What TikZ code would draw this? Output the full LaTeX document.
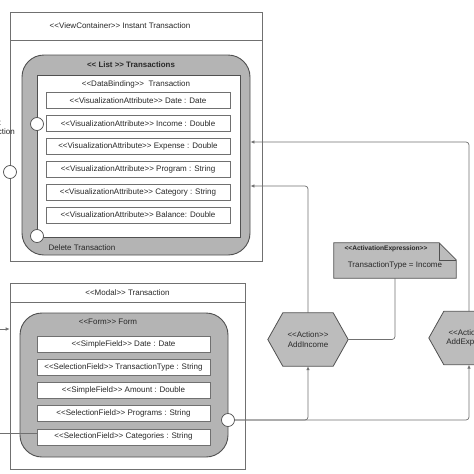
\documentclass[tikz,border=0pt]{standalone}
\usepackage{fontspec}
\setmainfont{Liberation Sans}
\usetikzlibrary{arrows.meta,positioning,backgrounds}
\definecolor{umlgray}{RGB}{180,180,180}
\definecolor{actgray}{RGB}{188,188,188}
\definecolor{linegray}{RGB}{112,112,112}
\definecolor{edgegray}{RGB}{80,80,80}
\definecolor{textgray}{RGB}{40,40,40}
\newcommand\stl{<\kern0pt<}
\newcommand\str{>\kern0pt>}

\begin{document}
\begin{tikzpicture}[
    x=1pt, y=-1pt,
    font=\fontsize{8}{9.5}\selectfont, text=textgray,
    frame/.style={
      rectangle, draw=linegray, line width=0.6pt, fill=white, inner sep=0pt
    },
    panel/.style={
      rectangle, rounded corners=22pt, draw=edgegray, line width=0.9pt,
      fill=umlgray, inner sep=0pt
    },
    attr/.style={
      rectangle, draw=linegray, line width=0.6pt, fill=white,
      minimum width=184pt, minimum height=16pt, inner sep=0pt
    },
    field/.style={attr, minimum width=173pt},
    port/.style={
      circle, draw=edgegray, line width=0.7pt, fill=white,
      minimum size=13pt, inner sep=0pt
    },
    action/.style={
      rectangle, minimum width=80pt, minimum height=53pt,
      align=center, inner sep=0pt
    },
    hexa/.style={draw=edgegray, line width=0.8pt, fill=actgray},
    wire/.style={draw=linegray, line width=0.7pt, rounded corners=3pt},
    arrow/.style={wire, -{Latex[length=4pt,width=3.5pt]}}
  ]
    \useasboundingbox (0,0) rectangle (474,474);

    % view container
    \node[frame, minimum width=252pt, minimum height=249pt] (view) at (136,136.5) {};
    \node[frame, minimum width=252pt, minimum height=28pt, anchor=north] (viewhead) at (view.north) {};
    \node (viewtitle) at (120,26) {\stl ViewContainer\str{} Instant Transaction};
    \node[panel, minimum width=228pt, minimum height=200pt] (lst) at (136,155) {};
    \node[font=\fontsize{7.9}{9}\selectfont\bfseries] (lsttitle) at (131,65) {\stl{} List \str{} Transactions};
    \node[rectangle, draw=edgegray, line width=0.7pt, fill=white,
      minimum width=203pt, minimum height=162pt] (bind) at (138.5,156) {};
    \node (bindtitle) at (136,84) {\stl DataBinding\str{} \ Transaction};
    \node[attr] (a1) at (138,100.5) {\stl VisualizationAttribute\str{} Date : Date};
    \node[attr, below=6.3pt of a1] (a2) {\stl VisualizationAttribute\str{} Income : Double};
    \node[attr, below=6.3pt of a2] (a3) {\stl VisualizationAttribute\str{} Expense : Double};
    \node[attr, below=6.3pt of a3] (a4) {\stl VisualizationAttribute\str{} Program : String};
    \node[attr, below=6.3pt of a4] (a5) {\stl VisualizationAttribute\str{} Category : String};
    \node[attr, below=6.3pt of a5] (a6) {\stl VisualizationAttribute\str{} Balance: Double};
    \node[port] (p1) at (37,124) {};
    \node[port] (p2) at (10,172) {};
    \node[port] (p3) at (37,236) {};
    \node[anchor=west] (deltxt) at (45,248) {Delete Transaction};
    \node[align=center] (edittxt) at (-6,127) {Edit\\Transaction};

    % modal
    \node[frame, minimum width=235pt, minimum height=186pt] (mdl) at (127.5,376) {};
    \node[frame, minimum width=235pt, minimum height=19pt, anchor=north] (mdlhead) at (mdl.north) {};
    \node (mdltitle) at (mdlhead) {\stl Modal\str{} Transaction};
    \node[panel, minimum width=208pt, minimum height=144pt] (form) at (124,385) {};
    \node (formtitle) at (108,322) {\stl Form\str{} Form};
    \node[field] (f1) at (123.5,344) {\stl SimpleField\str{} Date : Date};
    \node[field, below=6.6pt of f1] (f2) {\stl SelectionField\str{} TransactionType : String};
    \node[field, below=6.6pt of f2] (f3) {\stl SimpleField\str{} Amount : Double};
    \node[field, below=6.6pt of f3] (f4) {\stl SelectionField\str{} Programs : String};
    \node[field, below=6.6pt of f4] (f5) {\stl SelectionField\str{} Categories : String};
    \node[port] (p4) at (228,420) {};

    % actions and condition
    \node[action] (inc) at (308,339.5) {\stl Action\str\\AddIncome};
    \node[action] (exp) at (469,338) {\stl Action\str\\AddExpense};
    \node[rectangle, minimum width=122pt, minimum height=35pt] (cond) at (395,260.5) {};
    \node (condhead) at (386,249) {\fontsize{6.6}{7}\selectfont\bfseries \stl ActivationExpression\str};
    \node (condtxt) at (395,265) {TransactionType = Income};
    \begin{scope}[on background layer]
      \foreach \a in {inc,exp}
        \draw[hexa] (\a.west) -- ([xshift=15pt]\a.north west) -- ([xshift=-15pt]\a.north east)
          -- (\a.east) -- ([xshift=-15pt]\a.south east) -- ([xshift=15pt]\a.south west) -- cycle;
      \draw[hexa, line width=0.7pt] (cond.north west) -- ([xshift=-17pt]cond.north east)
        -- ([yshift=-17pt]cond.north east) -- (cond.south east) -- (cond.south west) -- cycle;
      \draw[draw=edgegray, line width=0.6pt] ([xshift=-17pt]cond.north east)
        |- ([yshift=-17pt]cond.north east);
    \end{scope}

    \draw[arrow] (inc.north) |- ([yshift=-31pt]lst.east);
    \draw[arrow] (exp.north) |- ([yshift=13pt]lst.east);
    \draw[wire] (cond.south) |- (inc.east);
    \draw[arrow] (p4.east) -| (inc.south);
    \draw[arrow] (p4.east) -| (exp.south);
    \coordinate (lin) at (-1,329);
    \draw[arrow] (lin) -- (lin -| mdl.west);
    \coordinate (lcat) at (-1,433);
    \draw[wire] (lcat) -- (lcat -| f5.west);
  \end{tikzpicture}
\end{document}
